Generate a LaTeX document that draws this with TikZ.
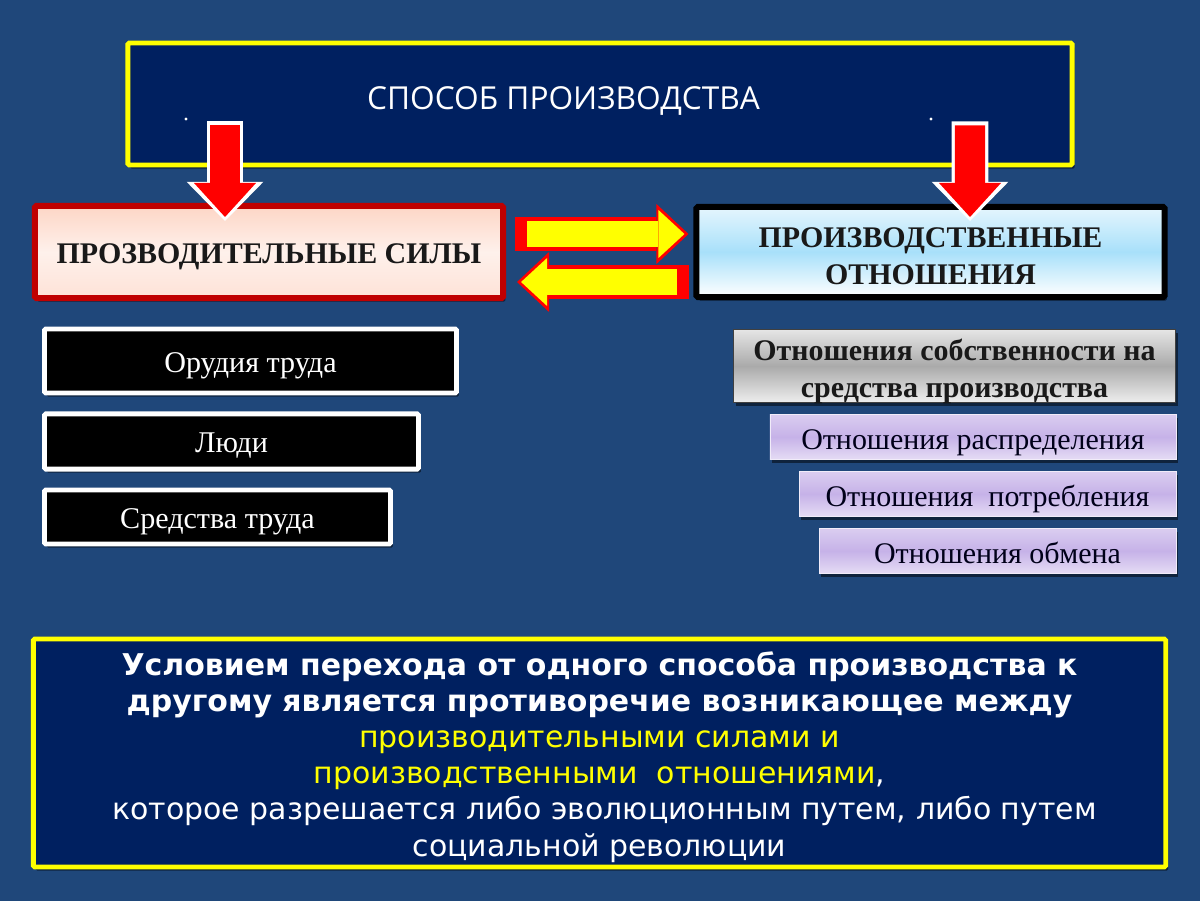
\documentclass[tikz,border=0pt]{standalone}
\usepackage{xcolor}
\usepackage{fontspec}
\setmainfont{Liberation Serif}
\newfontfamily\titlefont{Open Sans}
\newfontfamily\notefont{DejaVu Sans}
\definecolor{modebg}{RGB}{31, 71, 122}
\definecolor{modenavy}{RGB}{0, 32, 96}
\definecolor{modeyellow}{RGB}{255, 255, 0}
\definecolor{forcered}{RGB}{192, 0, 0}
\definecolor{forcepeach}{RGB}{253, 214, 198}
\definecolor{relationsky}{RGB}{168, 224, 250}
\definecolor{relationgray}{RGB}{170, 170, 170}
\definecolor{relationlilac}{RGB}{198, 178, 232}
\usetikzlibrary{shadows,arrows.meta,positioning}

\begin{document}
\begin{tikzpicture}[x=0.025cm, y=-0.025cm]
    % Define styles
    \tikzstyle{softshadow} = [drop shadow={shadow xshift=0.06cm, shadow yshift=-0.09cm, opacity=0.5, fill=black}]
    \tikzstyle{navybox} = [rectangle, draw=modeyellow, fill=modenavy, line width=0.12cm, rounded corners=1pt, inner sep=0pt, align=center, softshadow]
    \tikzstyle{mainbox} = [rectangle, line width=0.15cm, rounded corners=1pt, inner sep=0pt, align=center, softshadow,
                           font=\fontsize{21.3}{26.3}\selectfont\bfseries, text=black!90]
    \tikzstyle{toolbox} = [rectangle, draw=white, fill=black, line width=0.12cm, rounded corners=1pt, inner sep=0pt, text=white,
                           text height=0.55cm, text depth=0cm, font=\fontsize{21.4}{24}\selectfont, softshadow]
    \tikzstyle{kindbox} = [rectangle, draw=white!75!relationlilac, line width=0.02cm, inner sep=0pt,
                           top color=white!35!relationlilac, bottom color=white!55!relationlilac, middle color=relationlilac,
                           text height=0.6cm, text depth=0cm, font=\fontsize{21.3}{24}\selectfont, text=black!90!blue, softshadow]
    \tikzstyle{dropline} = [red, line width=0.76cm,
                            -{Triangle[length=0.85cm, width=1.55cm, line width=0pt]}, shorten >=0.1cm, shorten <=0.1cm,
                            preaction={draw=white, line width=0.92cm, shorten >=0cm, shorten <=0cm,
                            -{Triangle[length=0.98cm, width=1.92cm, line width=0pt]}}]
    \tikzstyle{swapline} = [modeyellow, line width=0.65cm,
                            -{Triangle[length=0.65cm, width=1.2cm, line width=0pt]}, shorten >=0.1cm, shorten <=0.3cm,
                            preaction={draw=red, line width=0.85cm, shorten >=0cm, shorten <=0cm,
                            -{Triangle[length=0.8cm, width=1.5cm, line width=0pt]}}]

    % Background
    \fill[modebg] (0,0) rectangle (1200,901);
    \useasboundingbox (0,0) rectangle (1200,901);

    % Top box
    \node[navybox, minimum width=23.6cm, minimum height=3.05cm, text=white] (mode) at (600,104) {};
    \node[font=\titlefont\fontsize{22.5}{24}\selectfont, text=white] (modetitle) at (563.5,101) {СПОСОБ ПРОИЗВОДСТВА};
    \node[circle, fill=white, inner sep=0.03cm] (dotleft) at (186,119) {};
    \node[circle, fill=white, inner sep=0.03cm] (dotright) at (931,119) {};

    % Two main boxes
    \node[mainbox, draw=forcered, top color=forcepeach, bottom color=white!30!forcepeach, middle color=white!65!forcepeach,
          text height=0.55cm, text depth=0cm,
          minimum width=11.7cm, minimum height=2.3cm] (forces) at (269,252) {ПРОЗВОДИТЕЛЬНЫЕ СИЛЫ};
    \node[mainbox, draw=black, top color=white!70!relationsky, bottom color=white, middle color=relationsky,
          text height=1.6cm, text depth=0cm,
          minimum width=11.7cm, minimum height=2.25cm] (relations) at (930.5,252) {ПРОИЗВОДСТВЕННЫЕ\\ОТНОШЕНИЯ};

    % Left column
    \node[toolbox, minimum width=10.3cm, minimum height=1.6cm] (tools) at (250.5,361) {Орудия труда};
    \node[toolbox, minimum width=9.35cm, minimum height=1.38cm] (people) at (231.5,441.5) {Люди};
    \node[toolbox, minimum width=8.65cm, minimum height=1.35cm] (means) at (217.5,517) {Средства труда};

    % Right column
    \node[rectangle, draw=black!75, line width=0.03cm, inner sep=0pt, top color=white!70!relationgray, bottom color=white!80!relationgray, middle color=relationgray,
          text height=1.55cm, text depth=0cm,
          minimum width=11.05cm, minimum height=1.83cm, align=center, softshadow,
          font=\fontsize{21.3}{26.3}\selectfont\bfseries, text=black!90] (property) at (954.5,366) {Отношения собственности на\\средства производства};
    \node[kindbox, minimum width=10.15cm, minimum height=1.13cm] (share) at (973,437) {Отношения распределения};
    \node[kindbox, minimum width=9.42cm, minimum height=1.13cm] (use) at (987.5,494) {Отношения~~потребления};
    \node[kindbox, minimum width=8.92cm, minimum height=1.13cm] (trade) at (997.5,551) {Отношения обмена};

    % Bottom box
    \node[navybox, minimum width=28.3cm, minimum height=5.7cm, text=white, text height=5.15cm, text depth=0cm,
          font=\notefont\fontsize{21.3}{25.7}\selectfont] (note) at (599.5,753)
          {\textbf{Условием перехода от одного способа производства к}\\
           \textbf{другому является противоречие возникающее между}\\
           \textcolor{modeyellow}{производительными силами и}\hspace*{0.2cm}\\
           \textcolor{modeyellow}{производственными~~отношениями},\\
           \hspace*{0.25cm}которое разрешается либо эволюционным путем, либо путем\\
           социальной революции};

    % Arrows between the boxes
    \draw[swapline] ([shift={(9,-18)}]forces.east) -- ([shift={(-5,-18)}]relations.west);
    \draw[swapline] ([shift={(-4,30)}]relations.west) -- ([shift={(11,30)}]forces.east);
    \draw[dropline] ([shift={(-375,-46)}]mode.south) -- ([shift={(-44,18)}]forces.north);
    \draw[dropline] ([shift={(370,-46)}]mode.south) -- ([shift={(39.5,17)}]relations.north);
\end{tikzpicture}
\end{document}
